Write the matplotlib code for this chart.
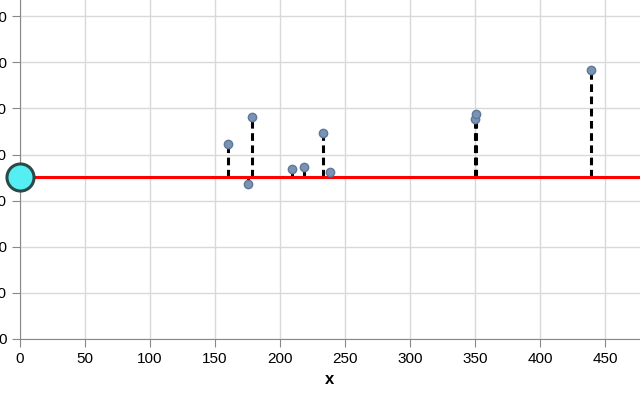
import matplotlib.pyplot as plt

# data
xs = [160, 175.5, 178.5, 209, 218.5, 233, 238.5, 350, 351, 439]
ys = [42.3, 33.6, 48.2, 36.9, 37.3, 44.7, 36.2, 47.7, 48.8, 58.4]
mean_y = 35.1
x_ticks = list(range(0, 451, 50))
y_ticks = list(range(0, 71, 10))

plt.rcParams['font.family'] = ['Liberation Sans', 'DejaVu Sans']
fig = plt.figure(figsize=(6.4, 4.0), dpi=100)
ax = fig.add_axes([20 / 640, 61 / 400, 620 / 640, 339 / 400])

# residual lines
for x, y in zip(xs, ys):
    ax.plot([x, x], [mean_y, y], color="black", linestyle=(0, (2.5, 1.5)), lw=2.2, zorder=3)

ax.axhline(mean_y, color="red", lw=2.2, zorder=4)
ax.scatter(xs, ys, s=36, color="#7a93b4", edgecolor="#5f7899", lw=1, zorder=5)
ax.scatter([0], [mean_y], s=380, color="#55eef2", edgecolor="#2a4a4a", lw=2.2, zorder=6, clip_on=False)

ax.set_xlim(0, 477)
ax.set_ylim(0, 73.5)
ax.set_xticks(x_ticks)
ax.set_yticks(y_ticks)
ax.grid(color="#d9d9d9", lw=1)
ax.set_axisbelow(True)
for s in ["top", "right"]:
    ax.spines[s].set_visible(False)
for s in ["left", "bottom"]:
    ax.spines[s].set_color("#888888")
ax.tick_params(colors="#888888", labelcolor="black", labelsize=11, length=6)
ax.set_xlabel("x", fontsize=12, fontweight="bold")

fig.savefig("out.png", dpi=100)
